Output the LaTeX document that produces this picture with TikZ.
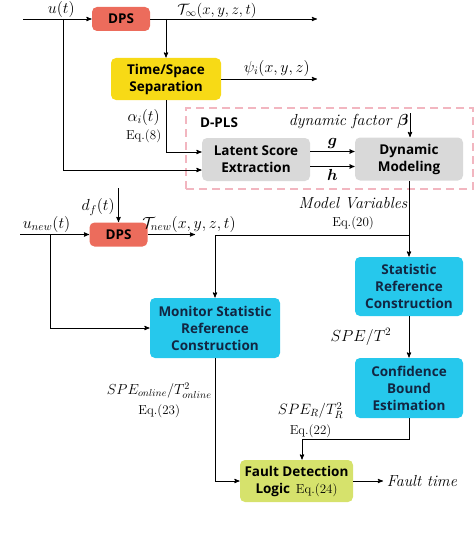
\RequirePackage{fix-cm}
\documentclass[tikz,border=0pt]{standalone}
\usepackage{amsmath}
\usepackage{fontspec}
\setsansfont{Open Sans}
\usepackage{tikz}
\usepackage{xcolor}
\usetikzlibrary{arrows}

\definecolor{dpsred}{RGB}{236,108,92}
\definecolor{sepyellow}{RGB}{247,218,22}
\definecolor{plsgray}{RGB}{217,217,217}
\definecolor{plspink}{RGB}{242,182,192}
\definecolor{statcyan}{RGB}{38,200,236}
\definecolor{statnavy}{RGB}{18,38,66}
\definecolor{logicgreen}{RGB}{214,226,108}

\newcommand{\boxfont}{\fontsize{13.5}{17}\selectfont\sffamily\bfseries}
\newcommand{\eqfont}{\fontsize{13}{15}\selectfont}

\begin{document}
\begin{tikzpicture}[x=1pt, y=-1pt, >=stealth', line width=0.9pt,
    font=\fontsize{16}{18}\selectfont,
    box/.style={rounded corners=5pt, align=center, inner sep=2pt, font=\boxfont},
    dps/.style={box, fill=dpsred, minimum width=58pt, minimum height=24pt},
    sepbox/.style={box, fill=sepyellow, minimum width=110pt, minimum height=42pt},
    plsbox/.style={box, fill=plsgray, minimum width=108pt, minimum height=43pt},
    statbox/.style={box, fill=statcyan, text=statnavy, minimum width=108pt, minimum height=59pt},
    logicbox/.style={box, fill=logicgreen, minimum width=113pt, minimum height=42pt},
    plsframe/.style={draw=plspink, line width=1.3pt, dash pattern=on 8pt off 5pt}]
    \useasboundingbox (0,0) rectangle (474,535);

    \node[plsframe, minimum width=287pt, minimum height=81pt] (dpls) at (329.5,148.5) {};
    \node[font=\boxfont] (dplslabel) at (219,123) {D-PLS};

    \node[dps] (dps1) at (121,19) {DPS};
    \node[sepbox] (tss) at (166,79) {Time/Space\\Separation};
    \node[plsbox] (lse) at (256,159.5) {Latent Score\\Extraction};
    \node[plsbox] (dyn) at (409,159) {Dynamic\\Modeling};
    \node[dps] (dps2) at (118.5,234.5) {DPS};
    \node[statbox, minimum width=130pt, minimum height=60pt] (mon) at (215,328) {Monitor Statistic\\Reference\\Construction};
    \node[statbox] (src) at (409,286.5) {Statistic\\Reference\\Construction};
    \node[statbox, minimum height=60pt] (cbe) at (409,388) {Confidence\\Bound\\Estimation};
    \node[logicbox] (fdl) at (296.5,481) {Fault Detection\\Logic \,{\rmfamily\mdseries\eqfont Eq.(24)}};

    \coordinate (uin) at (23,19);
    \coordinate (usplit) at (63,19);
    \coordinate (tinf) at (317,19);
    \coordinate (psiout) at (317,79);
    \coordinate (beta) at (410,113);
    \coordinate (mvsplit) at (409,235);
    \coordinate (dfin) at (118.5,188);
    \coordinate (unewin) at (20,234.5);
    \coordinate (unsplit) at (50,234.5);
    \coordinate (tnew) at (195,234.5);
    \coordinate (fout) at (383,481);

    % first pass: building the model
    \draw[->] (uin) -- (dps1.west) node[midway, above, xshift=4pt, inner sep=1pt] {$u(t)$};
    \draw[->] (dps1) -- (tinf) node[pos=0.4, above, inner sep=0.5pt, font=\fontsize{15}{17}\selectfont] {$\mathcal{T}_{\infty}(x,y,z,t)$};
    \draw[->] (tss.north |- dps1.east) -- (tss.north);
    \draw[->] (tss) -- (psiout) node[pos=0.58, above, inner sep=2pt] {$\psi_i(x,y,z)$};
    \draw[->] (tss.south) |- ([yshift=7.5pt]lse.west) node[pos=0.25, left, align=center, xshift=-1pt] {$\alpha_i(t)$\\\eqfont Eq.(8)};
    \draw[->] (usplit) |- ([yshift=-10.5pt]lse.west);
    \draw[->] ([yshift=8pt]lse.east) -- ([yshift=8pt]lse.east -| dyn.west) node[midway, above, inner sep=2pt] {$\boldsymbol{g}$};
    \draw[->] ([yshift=-7pt]lse.east) -- ([yshift=-7pt]lse.east -| dyn.west) node[midway, below, inner sep=2pt] {$\boldsymbol{h}$};
    \draw[->] (beta) -- (dyn.north -| beta) node[at start, anchor=north east, inner sep=1pt] {\textit{dynamic factor} $\boldsymbol{\beta}$};
    \draw[->] (dyn) -- (src) node[pos=0.43, left, align=center, inner sep=1pt] {\textit{Model Variables}\\\eqfont Eq.(20)};

    % online monitoring
    \draw[->] (mvsplit) -| (mon.north);
    \draw[->] (dfin) -- (dps2) node[midway, left, yshift=-2pt] {$d_f(t)$};
    \draw[->] (unewin) -- (dps2) node[midway, above, xshift=-8pt, inner sep=2pt] {$u_{new}(t)$};
    \draw[->] (dps2) -- (tnew) node[at end, above, xshift=-6pt, inner sep=2pt] {$\mathcal{T}_{new}(x,y,z,t)$};
    \draw[->] (unsplit) |- (mon.west);
    \draw[->] (src) -- (cbe) node[midway, left=14pt] {$SPE/T^2$};
    \draw[->] (cbe.south) -- ++(0,21) -| ([xshift=5.5pt]fdl.north) node[pos=0.46, above, align=center, inner sep=1pt, font=\fontsize{15}{17}\selectfont] {$SPE_R/T_R^2$\\[3pt]\eqfont Eq.(22)};
    \draw[->] (mon.south) |- (fdl.west) node[pos=0.17, left, align=center, inner sep=3pt, font=\fontsize{14.5}{17}\selectfont] {$SPE_{online}/T^2_{online}$\\[3pt]\eqfont Eq.(23)};
    \draw[->] (fdl) -- (fout) node[right] {\textit{Fault time}};
\end{tikzpicture}
\end{document}
